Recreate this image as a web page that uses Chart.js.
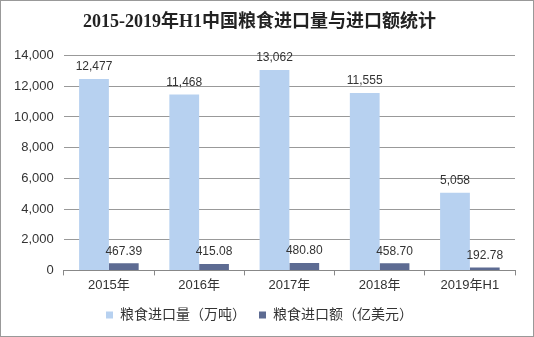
<!DOCTYPE html>
<html>
<head>
<meta charset="utf-8">
<script src="https://cdn.jsdelivr.net/npm/chart.js@4.4.0/dist/chart.umd.min.js"></script>
<style>
html,body{margin:0;padding:0;background:#fff;}
#wrap{width:534px;height:337px;box-sizing:border-box;border:1px solid #999;position:relative;}
canvas{display:block;}
</style>
</head>
<body>
<div id="wrap"><canvas id="c" width="532" height="335"></canvas></div>
<script>
const categories = ['2015年','2016年','2017年','2018年','2019年H1'];
const importVolume = [12477, 11468, 13062, 11555, 5058];
const importValue = [467.39, 415.08, 480.80, 458.70, 192.78];
const yTicks = [0, 2000, 4000, 6000, 8000, 10000, 12000, 14000];
const seriesNames = ['粮食进口量（万吨）', '粮食进口额（亿美元）'];
const titleText = '2015-2019年H1中国粮食进口量与进口额统计';

const fmt0 = v => v.toLocaleString('en-US');
const fmt2 = v => v.toFixed(2);

const labelPlugin = {
  id: 'barLabels',
  afterDatasetsDraw(chart) {
    const ctx = chart.ctx;
    ctx.save();
    ctx.font = "12px 'Liberation Sans', Arial, sans-serif";
    ctx.fillStyle = '#333';
    ctx.textAlign = 'center';
    ctx.textBaseline = 'bottom';
    chart.data.datasets.forEach((ds, di) => {
      const meta = chart.getDatasetMeta(di);
      meta.data.forEach((el, i) => {
        const v = ds.data[i];
        const t = di === 0 ? fmt0(v) : fmt2(v);
        ctx.fillText(t, el.x, el.y - 6);
      });
    });
    ctx.restore();
  }
};

new Chart(document.getElementById('c'), {
  type: 'bar',
  data: {
    labels: categories,
    datasets: [
      { label: seriesNames[0], data: importVolume, backgroundColor: '#B7D1F0', barPercentage: 1.0, categoryPercentage: 0.66 },
      { label: seriesNames[1], data: importValue, backgroundColor: '#5D6B92', barPercentage: 1.0, categoryPercentage: 0.66 }
    ]
  },
  options: {
    responsive: false,
    animation: false,
    layout: { padding: { left: 3, right: 18, top: 6, bottom: 4 } },
    plugins: {
      title: {
        display: true,
        text: titleText,
        color: '#222',
        font: { family: "'Liberation Serif', 'Noto Sans CJK SC', serif", size: 18, weight: 'bold' },
        padding: { top: 5, bottom: 22 }
      },
      legend: {
        position: 'bottom',
        labels: {
          boxWidth: 7, boxHeight: 7, padding: 13,
          color: '#333',
          font: { family: "'Liberation Sans', 'Noto Sans CJK SC', sans-serif", size: 14 }
        }
      },
      tooltip: { enabled: false }
    },
    scales: {
      x: {
        grid: { display: true, drawOnChartArea: false, drawTicks: true, tickLength: 5, color: '#888', offset: true },
        border: { display: true, color: '#888' },
        ticks: { color: '#333', padding: 2, font: { family: "'Liberation Sans', 'Noto Sans CJK SC', sans-serif", size: 13 } }
      },
      y: {
        min: 0, max: 14000,
        afterBuildTicks: axis => { axis.ticks = yTicks.map(v => ({ value: v })); },
        grid: { color: '#999', drawTicks: false },
        border: { display: false },
        ticks: { color: '#333', padding: 10, callback: v => fmt0(v), font: { family: "'Liberation Sans', sans-serif", size: 13 } }
      }
    }
  },
  plugins: [labelPlugin]
});
</script>
</body>
</html>
